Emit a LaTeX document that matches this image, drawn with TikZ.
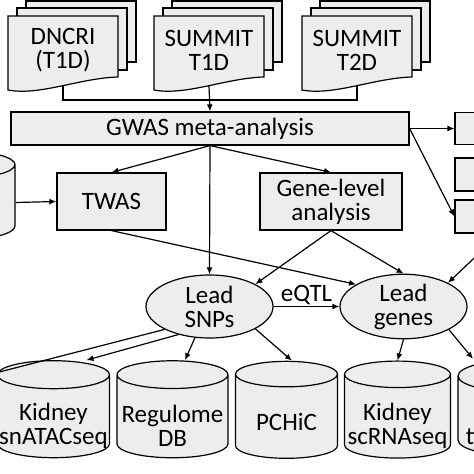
\documentclass[tikz,border=0pt]{standalone}
\usepackage{fontspec}
\setmainfont{Carlito}
\usetikzlibrary{arrows.meta,shapes.geometric}

\tikzset{
  box/.style={draw, fill=black!7, line width=1.2pt},
  proc/.style={box, rectangle, inner sep=0pt, align=center},
  lead/.style={box, ellipse, minimum width=127pt, minimum height=63pt, inner sep=0pt, align=center},
  db/.style={box, cylinder, shape border rotate=90, aspect=0.25, minimum height=97pt, inner sep=0pt},
  arr/.style={line width=1.2pt, -{Latex[length=7pt,width=6pt]}},
  wire/.style={line width=1.2pt},
}

\begin{document}
\begin{tikzpicture}[x=1pt, y=-1pt, font=\fontsize{25}{24}\selectfont]
    \useasboundingbox (0,0) rectangle (474,474);
    \clip (0,0) rectangle (474,474);

    % cohorts
    \foreach \x/\nm/\txt in {8/dncri/{DNCRI\\(T1D)}, 154/sumone/{SUMMIT\\T1D}, 302/sumtwo/{SUMMIT\\T2D}} {
        \draw[box] (\x+18,1) rectangle (\x+128,62);
        \draw[box] (\x+9,8) rectangle (\x+119,70);
        \draw[box] (\x,16) -- (\x+110,16) -- (\x+110,77) .. controls (\x+72,78) and (\x+32,96) .. (\x,90) -- cycle;
        \node[align=center] (\nm) at (\x+55,50) {\txt};
        \coordinate (\nm-b) at (\x+55,86);
    }
    \coordinate (merge) at (209,100);
    \draw[wire] (dncri-b) |- (merge) -| (sumtwo-b);

    \node[proc, minimum width=398pt, minimum height=33pt] (gwas) at (210,128.5) {GWAS meta-analysis};
    \draw[arr] (sumone-b) -- (gwas.north);

    % boxes on the right
    \node[proc, minimum width=60pt, minimum height=32pt] (outa) at (485,128.5) {};
    \node[proc, minimum width=60pt, minimum height=33pt] (outb) at (485,174.5) {};
    \node[proc, minimum width=60pt, minimum height=33pt] (outc) at (485,216.5) {};
    \draw[arr] (gwas.east) -- (outa.west);
    \draw[arr] (gwas.east) -- (outc.west);

    \node[proc, minimum width=109pt, minimum height=57pt] (twas) at (111.5,201.5) {TWAS};
    \node[proc, minimum width=142pt, minimum height=57pt] (gene) at (331,201.5) {Gene-level\\analysis};
    \node[db, minimum height=89pt] (ldb) at (-40,202.5) {\hspace*{110pt}};
    \draw[arr] (ldb.east) -- (twas.west);

    \node[lead] (snps) at (209.5,306.5) {Lead\\SNPs};
    \node[lead] (genes) at (403.5,306.5) {Lead\\genes};
    \draw[arr] (gwas.south) -- (twas.north);
    \draw[arr] (gwas.south) -- (gene.north);
    \draw[arr] (gwas.south) -- (snps.north);
    \draw[arr] (gene.south) -- (snps.26);
    \draw[arr] (gene.south) -- (genes.north);
    \draw[arr] (twas.south) -- (genes.155);
    \coordinate (offr) at (490,243);
    \draw[arr] (offr) -- (genes.28);
    \draw[arr] (snps) -- node[above, inner sep=1pt] {eQTL} (genes);

    % databases
    \foreach \nm/\cx/\w/\dy/\txt in {atac/53.5/112/9/{Kidney\\snATACseq}, regdb/172.5/111/9/{Regulome\\DB},
        pchic/286.5/102/5.5/{PCHiC}, scrna/397.5/106/9/{Kidney\\scRNAseq}, tissue/524/132/9/{Kidney\\tissue eQTL}} {
        \node[db] (\nm) at (\cx,416.5) {\hspace*{\w pt}};
        \node[align=center] (\nm-t) at (\cx,416.5+\dy) {\txt};
    }
    \coordinate (offl) at (-20,377);
    \draw[wire] (snps.207) -- (offl);
    \draw[arr] (snps.222) -- ([xshift=33pt]atac.north);
    \draw[arr] (snps.245) -- ([xshift=12.5pt]regdb.north);
    \draw[arr] (snps.-26) -- ([xshift=5.5pt]pchic.north);
    \draw[arr] (genes.south) -- (scrna.north);
    \draw[arr] (genes.-27) -- ([xshift=-51pt]tissue.north);
\end{tikzpicture}
\end{document}
